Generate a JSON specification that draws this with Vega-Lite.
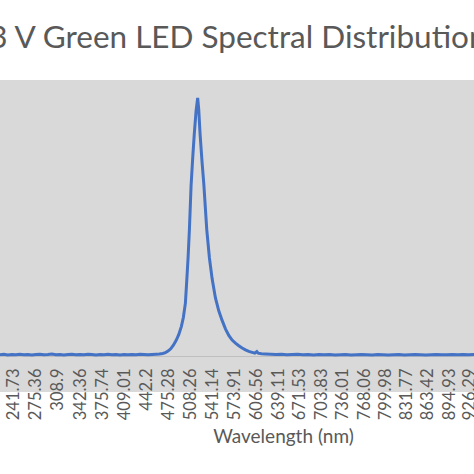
{
  "$schema": "https://vega.github.io/schema/vega-lite/v6.json",
  "width": 566,
  "height": 312,
  "autosize": {"type": "none"},
  "padding": {"left": 0, "right": 0, "top": 80, "bottom": 82},
  "background": "white",
  "view": {"fill": "#d9d9d9", "stroke": null},
  "title": {
    "text": "3.3 V Green LED Spectral Distribution",
    "font": "Lato",
    "fontSize": 31.5,
    "fontWeight": "normal",
    "color": "#595959",
    "anchor": "middle",
    "baseline": "alphabetic",
    "offset": 1,
    "dx": -58
  },
  "data": {
    "values": [
      {"wavelength": 222, "intensity": 0.005}, {"wavelength": 228, "intensity": 0.007},
      {"wavelength": 234, "intensity": 0.004}, {"wavelength": 240, "intensity": 0.006},
      {"wavelength": 246, "intensity": 0.005}, {"wavelength": 252, "intensity": 0.007},
      {"wavelength": 258, "intensity": 0.005}, {"wavelength": 264, "intensity": 0.006},
      {"wavelength": 270, "intensity": 0.004}, {"wavelength": 276, "intensity": 0.006},
      {"wavelength": 282, "intensity": 0.007}, {"wavelength": 288, "intensity": 0.005},
      {"wavelength": 294, "intensity": 0.006}, {"wavelength": 300, "intensity": 0.008},
      {"wavelength": 306, "intensity": 0.005}, {"wavelength": 312, "intensity": 0.006},
      {"wavelength": 318, "intensity": 0.004}, {"wavelength": 324, "intensity": 0.006},
      {"wavelength": 330, "intensity": 0.007}, {"wavelength": 336, "intensity": 0.005},
      {"wavelength": 342, "intensity": 0.006}, {"wavelength": 348, "intensity": 0.005},
      {"wavelength": 354, "intensity": 0.007}, {"wavelength": 360, "intensity": 0.006},
      {"wavelength": 366, "intensity": 0.004}, {"wavelength": 372, "intensity": 0.006},
      {"wavelength": 378, "intensity": 0.005}, {"wavelength": 384, "intensity": 0.007},
      {"wavelength": 390, "intensity": 0.005}, {"wavelength": 396, "intensity": 0.006},
      {"wavelength": 402, "intensity": 0.004}, {"wavelength": 408, "intensity": 0.006},
      {"wavelength": 414, "intensity": 0.005}, {"wavelength": 420, "intensity": 0.006},
      {"wavelength": 426, "intensity": 0.005}, {"wavelength": 432, "intensity": 0.007},
      {"wavelength": 438, "intensity": 0.006}, {"wavelength": 444, "intensity": 0.005},
      {"wavelength": 450, "intensity": 0.006}, {"wavelength": 456, "intensity": 0.007},
      {"wavelength": 461, "intensity": 0.008}, {"wavelength": 466, "intensity": 0.010},
      {"wavelength": 470, "intensity": 0.013}, {"wavelength": 474, "intensity": 0.019},
      {"wavelength": 478, "intensity": 0.028}, {"wavelength": 482, "intensity": 0.042},
      {"wavelength": 486, "intensity": 0.060}, {"wavelength": 490, "intensity": 0.083},
      {"wavelength": 494, "intensity": 0.115}, {"wavelength": 497, "intensity": 0.150},
      {"wavelength": 500, "intensity": 0.205}, {"wavelength": 502, "intensity": 0.29},
      {"wavelength": 504, "intensity": 0.38}, {"wavelength": 506, "intensity": 0.49},
      {"wavelength": 508.5, "intensity": 0.66}, {"wavelength": 511, "intensity": 0.77},
      {"wavelength": 513.3, "intensity": 0.86}, {"wavelength": 516, "intensity": 0.95},
      {"wavelength": 518.4, "intensity": 1.0}, {"wavelength": 520, "intensity": 0.955},
      {"wavelength": 522, "intensity": 0.86}, {"wavelength": 525, "intensity": 0.75},
      {"wavelength": 527.5, "intensity": 0.67}, {"wavelength": 530, "intensity": 0.57},
      {"wavelength": 532, "intensity": 0.49}, {"wavelength": 536, "intensity": 0.38},
      {"wavelength": 540, "intensity": 0.30}, {"wavelength": 545, "intensity": 0.225},
      {"wavelength": 550, "intensity": 0.175}, {"wavelength": 555, "intensity": 0.138},
      {"wavelength": 560, "intensity": 0.105}, {"wavelength": 565, "intensity": 0.080},
      {"wavelength": 570, "intensity": 0.062}, {"wavelength": 575, "intensity": 0.050},
      {"wavelength": 580, "intensity": 0.040}, {"wavelength": 585, "intensity": 0.031},
      {"wavelength": 590, "intensity": 0.024}, {"wavelength": 595, "intensity": 0.018},
      {"wavelength": 600, "intensity": 0.014}, {"wavelength": 604, "intensity": 0.011},
      {"wavelength": 607, "intensity": 0.017}, {"wavelength": 609, "intensity": 0.011},
      {"wavelength": 614, "intensity": 0.009}, {"wavelength": 620, "intensity": 0.008},
      {"wavelength": 628, "intensity": 0.007}, {"wavelength": 636, "intensity": 0.006},
      {"wavelength": 644, "intensity": 0.007}, {"wavelength": 652, "intensity": 0.005},
      {"wavelength": 660, "intensity": 0.006}, {"wavelength": 668, "intensity": 0.007},
      {"wavelength": 676, "intensity": 0.005}, {"wavelength": 684, "intensity": 0.006},
      {"wavelength": 692, "intensity": 0.004}, {"wavelength": 700, "intensity": 0.006},
      {"wavelength": 708, "intensity": 0.005}, {"wavelength": 716, "intensity": 0.006},
      {"wavelength": 724, "intensity": 0.004}, {"wavelength": 732, "intensity": 0.005},
      {"wavelength": 740, "intensity": 0.006}, {"wavelength": 748, "intensity": 0.004},
      {"wavelength": 756, "intensity": 0.005}, {"wavelength": 764, "intensity": 0.006},
      {"wavelength": 772, "intensity": 0.005}, {"wavelength": 780, "intensity": 0.004},
      {"wavelength": 788, "intensity": 0.006}, {"wavelength": 796, "intensity": 0.005},
      {"wavelength": 804, "intensity": 0.004}, {"wavelength": 812, "intensity": 0.005},
      {"wavelength": 820, "intensity": 0.006}, {"wavelength": 828, "intensity": 0.004},
      {"wavelength": 836, "intensity": 0.005}, {"wavelength": 844, "intensity": 0.006},
      {"wavelength": 852, "intensity": 0.005}, {"wavelength": 860, "intensity": 0.004},
      {"wavelength": 868, "intensity": 0.005}, {"wavelength": 876, "intensity": 0.006},
      {"wavelength": 884, "intensity": 0.005}, {"wavelength": 892, "intensity": 0.005},
      {"wavelength": 900, "intensity": 0.006}, {"wavelength": 908, "intensity": 0.005},
      {"wavelength": 916, "intensity": 0.006}, {"wavelength": 924, "intensity": 0.005},
      {"wavelength": 932, "intensity": 0.006}, {"wavelength": 940, "intensity": 0.005}
    ]
  },
  "mark": {"type": "line", "color": "#4472c4", "strokeWidth": 3, "clip": true},
  "encoding": {
    "x": {
      "field": "wavelength",
      "type": "quantitative",
      "scale": {"domain": [222.25, 1070.2], "nice": false, "zero": false},
      "axis": {
        "values": [241.73, 275.36, 308.9, 342.36, 375.74, 409.01, 442.2, 475.28, 508.26, 541.14, 573.91, 606.56, 639.11, 671.53, 703.83, 736.01, 768.06, 799.98, 831.77, 863.42, 894.93, 926.29],
        "format": ".2~f",
        "labelAngle": -90,
        "labelFont": "Lato",
        "labelFontSize": 16.5,
        "labelColor": "#595959",
        "labelPadding": 12,
        "labelFlush": false,
        "labelOverlap": false,
        "labelBound": false,
        "offset": -36,
        "grid": false,
        "ticks": false,
        "domainColor": "#bfbfbf",
        "domainWidth": 1,
        "title": "Wavelength (nm)",
        "titleFont": "Lato",
        "titleFontSize": 19,
        "titleFontWeight": "normal",
        "titleColor": "#595959",
        "titlePadding": 8
      }
    },
    "y": {
      "field": "intensity",
      "type": "quantitative",
      "scale": {"domain": [-0.1395, 1.0698], "nice": false, "zero": false},
      "axis": null
    }
  }
}
